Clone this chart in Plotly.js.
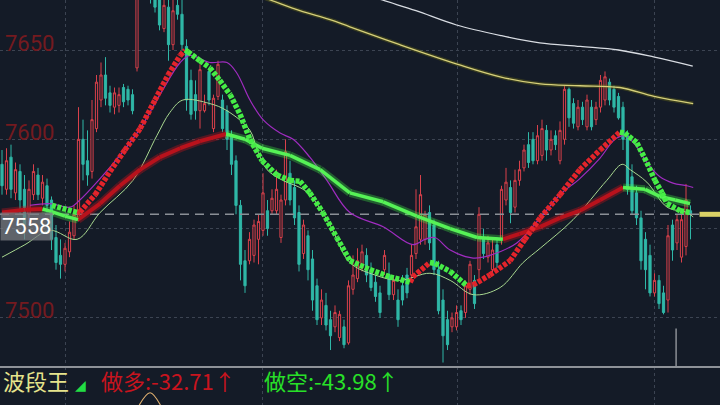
<!DOCTYPE html>
<html><head><meta charset="utf-8">
<script src="https://cdn.plot.ly/plotly-3.0.1.min.js"></script>
<style>html,body{margin:0;padding:0;background:#141b27;}#chart{width:720px;height:405px;}</style>
</head><body><div id="chart"></div>
<script>
// ---------- data ----------
const openP = [7586,7572,7590,7570,7582,7572,7558,7569,7580,7567, 7574,7566,7545,7535,7530,7537,7546,7556,7600,7588,
 7582,7606,7622,7636,7626,7618,7619,7629,7628,7625, 7640,7695,7684,7695,7681,7678,7662,7674,7653,7675,
 7670,7652,7633,7625,7616,7616,7638,7606,7624,7622, 7616,7602,7588,7563,7532,7532,7535,7544,7549,7560,
 7560,7560,7545,7566,7581,7573,7559,7536,7546,7533, 7518,7500,7507,7499,7495,7489,7495,7486,7516,7522,
 7528,7535,7527,7520,7514,7527,7524,7513,7510,7518, 7524,7524,7536,7544,7544,7559,7552,7527,7510,7499,
 7495,7495,7504,7503,7516,7521,7527,7545,7534,7527, 7541,7544,7566,7573,7562,7577,7584,7597,7600,7588,
 7591,7605,7594,7602,7588,7600,7628,7620,7607,7618, 7607,7618,7611,7618,7622,7632,7628,7624,7618,7602,
 7579,7570,7556,7544,7535,7514,7521,7514,7510,7552, 7542,7534,7540,7560];
const highP = [7594,7595,7597,7587,7586,7580,7577,7586,7584,7580, 7578,7568,7552,7544,7542,7554,7563,7618,7611,7605,
 7622,7636,7643,7646,7630,7629,7629,7631,7630,7628, 7689,7700,7703,7700,7686,7684,7681,7678,7678,7684,
 7681,7656,7639,7633,7642,7625,7640,7625,7644,7625, 7619,7605,7591,7566,7538,7548,7555,7558,7581,7566,
 7572,7583,7569,7600,7588,7577,7563,7555,7549,7538, 7522,7516,7514,7504,7507,7504,7499,7521,7535,7539,
 7541,7539,7531,7524,7518,7538,7531,7524,7516,7524, 7528,7541,7572,7580,7560,7563,7555,7532,7516,7504,
 7503,7507,7507,7521,7532,7524,7562,7550,7546,7544, 7545,7574,7584,7577,7583,7588,7597,7604,7604,7608,
 7611,7608,7605,7605,7610,7630,7629,7623,7622,7621, 7625,7622,7621,7636,7638,7634,7630,7626,7621,7605,
 7586,7574,7560,7548,7541,7525,7524,7518,7552,7555, 7558,7558,7575,7563];
const lowP = [7569,7569,7567,7566,7558,7544,7552,7566,7566,7563, 7559,7538,7527,7522,7526,7534,7544,7554,7577,7574,
 7578,7604,7618,7619,7615,7614,7615,7618,7619,7614, 7638,7681,7681,7676,7671,7661,7660,7644,7650,7667,
 7650,7616,7611,7611,7606,7615,7619,7604,7622,7604, 7594,7580,7558,7521,7514,7530,7531,7530,7546,7546,
 7558,7558,7542,7563,7563,7552,7526,7533,7521,7504, 7496,7496,7493,7482,7492,7487,7483,7485,7513,7520,
 7526,7520,7515,7509,7500,7524,7510,7510,7495,7507, 7511,7521,7533,7541,7541,7538,7524,7502,7475,7482,
 7492,7493,7496,7500,7513,7505,7522,7533,7531,7524, 7528,7541,7563,7553,7559,7574,7582,7584,7586,7586,
 7588,7588,7591,7594,7586,7597,7607,7606,7605,7608, 7605,7605,7608,7615,7619,7619,7615,7611,7594,7569,
 7558,7552,7527,7516,7512,7512,7505,7502,7503,7532, 7538,7531,7535,7544];
const closeP = [7574,7588,7572,7583,7566,7552,7572,7582,7569,7576, 7563,7544,7531,7530,7539,7548,7558,7600,7586,7580,
 7611,7632,7636,7623,7619,7626,7625,7621,7622,7616, 7684,7686,7698,7681,7674,7664,7675,7653,7672,7670,
 7653,7622,7614,7616,7639,7620,7622,7623,7642,7606, 7600,7586,7563,7530,7518,7544,7552,7554,7570,7550,
 7567,7572,7566,7593,7566,7556,7530,7552,7527,7510, 7499,7510,7496,7490,7503,7502,7485,7518,7524,7532,
 7537,7524,7517,7512,7503,7535,7513,7521,7499,7510, 7514,7535,7551,7569,7558,7542,7527,7504,7490,7485,
 7500,7503,7499,7518,7530,7508,7558,7536,7542,7538, 7531,7572,7576,7559,7577,7583,7594,7587,7588,7602,
 7606,7594,7600,7597,7605,7628,7612,7609,7618,7611, 7622,7607,7618,7633,7635,7622,7618,7612,7600,7572,
 7560,7556,7532,7527,7514,7521,7508,7503,7546,7538, 7555,7555,7566,7558];

// long moving averages
const whiteIdx = [75,84.5,92,101,111,119.5,128.5,137,145,153.5];
const whiteVal = [7686,7678,7672,7664,7658,7654,7652,7650,7646,7641];
const yellowIdx = [53,59.6,66.2,72.9,77.3,88.4,101.3,110.7,119.6,128.4,137.3,144.9,153.6];
const yellowVal = [7684,7678,7672,7667,7663,7653,7642,7635,7631,7630,7629,7624,7620];
// thick trend MA (red rising / green falling)
const maIdx = [0,5,9,11,14,16.9,21.8,26.2,30.7,35.1,39.6,44,49.8,54,57.8,64,70.7,77.3,84.7,92.2,99.6,105.6,111.3,115,119.6,124,128.4,132.9,138,142.9,146.2,149.6,152.9];
const maVal = [7559,7560.5,7561,7559.5,7557,7555,7564,7574,7583,7590,7595,7599,7603,7600,7595,7591,7583,7570,7565,7557,7550,7545,7544,7547,7551,7556,7560,7566,7573,7572,7568,7566,7564];
// wave step line
const stepIdx = [11.1,16.7,17.3,20.7,24,27.3,30.7,34,36.9,39.6,40.7,41.3,44,46.2,48.4,50.7,52.9,55.1,57.8,61.1,64,66.2,68.4,71.3,74.4,77.3,81.8,86.2,90.7,91.3,95.1,96.2,99.6,103.3,104.7,108.4,112.9,116.2,119.6,124,128.4,132.9,137.3,138.4,141.1,143.3,145.1,146.7,147.8,150.7,152.9];
const stepVal = [7563,7559,7559.2,7569,7582,7594,7606,7622,7636,7647,7650,7649,7644,7640,7633,7625,7614,7600,7588,7580,7577,7576.5,7570,7559,7545,7532,7527,7523,7520,7523,7531,7530.5,7526,7518,7518.5,7524,7532,7544,7556,7569,7583,7594,7604,7603.5,7598,7587,7577,7570,7564,7560,7559];
// purple band line
const purpleIdx = [6.2,10.7,15.1,17.3,21.8,26.2,30.7,35.1,39.6,41.8,46.2,50,52.2,55.1,58,61.8,64.7,68.4,72.2,77.3,84.7,91.3,94,96.2,99.6,104.7,108.4,114.4,119.6,124,128.4,132.9,136.2,138.4,140.7,143.3,146.2,149.1,152.2,153.6];
const purpleVal = [7563,7564,7562,7566,7578,7591,7606,7625,7643,7647,7643,7643,7637,7622,7611,7603.5,7600,7590,7577,7559,7551,7541,7544,7545,7538,7533.5,7535,7542,7556,7569,7578,7589.5,7600,7602,7597,7587,7579,7575.5,7574,7573];
// thin pale-green line
const thinIdx = [0,5.1,10.7,16.7,21.8,29.1,34.4,37.3,40.2,46.2,50,55.1,56.7,58.9,62.4,66.2,68.4,72.9,77.3,82.9,88.4,95.1,99.6,104.7,110.7,115.8,119.6,126.9,134.4,137.8,139.6,143.3,147.8,152.2,153.6];
const thinVal = [7534,7541,7549,7544,7559,7577,7602,7615,7622,7620,7616,7605,7594,7583,7577,7573,7569,7552,7531,7524,7521,7525,7521,7513,7517,7531,7539,7555,7577,7586,7583,7576,7562,7559,7556.5];
// indicator sub-panel
const indName = '波段王';
const longLabel = '做多', longVal = '-32.71';
const shortLabel = '做空', shortVal = '-43.98';
const indIdx = [30.5,32.9,35.2];
const indVal = [0,10,0];
const lastPrice = 7558;
const tickVals = [7500,7550,7600,7650];
const tickLabels = ['7500','7600','7650'];
const vGridIdx = [14,57.8,101.3,144.9];
const markIdx = 149.8, markTop = 7494;

// ---------- build ----------
const idx = openP.map((_,i)=>i);
const X0 = -0.444, X1 = 159.556, Y0 = 7472.5, Y1 = 7678;

function splitDir(xs, ys){
  const up={x:[],y:[]}, dn={x:[],y:[]};
  for(let k=0;k<xs.length-1;k++){
    const t = ys[k+1] > ys[k] ? up : dn;
    t.x.push(xs[k],xs[k+1],null); t.y.push(ys[k],ys[k+1],null);
  }
  return {up,dn};
}
const ma = splitDir(maIdx, maVal);
const st = splitDir(stepIdx, stepVal);

const traces = [];
traces.push({type:'scatter',mode:'lines',x:whiteIdx,y:whiteVal,line:{color:'#d8dce2',width:1.3,shape:'spline'},hoverinfo:'skip'});
traces.push({type:'scatter',mode:'lines',x:yellowIdx,y:yellowVal,line:{color:'rgba(120,120,20,0.35)',width:4,shape:'spline'},hoverinfo:'skip'});
traces.push({type:'scatter',mode:'lines',x:yellowIdx,y:yellowVal,line:{color:'#d6d07a',width:1.3,shape:'spline'},hoverinfo:'skip'});
traces.push({type:'scatter',mode:'lines',x:[X0,155],y:[lastPrice,lastPrice],line:{color:'#8a8f96',width:1.4,dash:'9px,6px'},hoverinfo:'skip'});
traces.push({type:'candlestick',x:idx,open:openP,high:highP,low:lowP,close:closeP,
  increasing:{line:{color:'#d9414b',width:1},fillcolor:'rgba(20,27,39,1)'},
  decreasing:{line:{color:'#2fb7a7',width:1},fillcolor:'#2fb7a7'},
  whiskerwidth:0, hoverinfo:'skip'});
traces.push({type:'scatter',mode:'lines',x:thinIdx,y:thinVal,line:{color:'#a8d890',width:1,shape:'spline'},hoverinfo:'skip'});
traces.push({type:'scatter',mode:'lines',x:purpleIdx,y:purpleVal,line:{color:'#a02cc0',width:1.2,shape:'spline'},hoverinfo:'skip'});
// thick MA with glow
traces.push({type:'scatter',mode:'lines',x:ma.up.x,y:ma.up.y,line:{color:'rgba(200,20,30,0.35)',width:8},hoverinfo:'skip'});
traces.push({type:'scatter',mode:'lines',x:ma.dn.x,y:ma.dn.y,line:{color:'rgba(70,255,70,0.3)',width:8},hoverinfo:'skip'});
traces.push({type:'scatter',mode:'lines',x:ma.up.x,y:ma.up.y,line:{color:'#b8121c',width:4},hoverinfo:'skip'});
traces.push({type:'scatter',mode:'lines',x:ma.dn.x,y:ma.dn.y,line:{color:'#56f256',width:3.5},hoverinfo:'skip'});
// step line
traces.push({type:'scatter',mode:'lines',x:st.up.x,y:st.up.y,line:{color:'#e3242b',width:5.5,dash:'4px,1.5px'},hoverinfo:'skip'});
traces.push({type:'scatter',mode:'lines',x:st.dn.x,y:st.dn.y,line:{color:'#46ec46',width:5.5,dash:'4px,1.5px'},hoverinfo:'skip'});
// price pointer at right
traces.push({type:'scatter',mode:'lines',x:[155,X1],y:[lastPrice,lastPrice],line:{color:'rgba(240,230,110,0.9)',width:5},hoverinfo:'skip'});
// vertical marker
traces.push({type:'scatter',mode:'lines',x:[markIdx,markIdx],y:[markTop,Y0],line:{color:'#8a8e94',width:1.5},hoverinfo:'skip'});
// indicator curve
traces.push({type:'scatter',mode:'lines',xaxis:'x2',yaxis:'y2',x:indIdx,y:indVal,line:{color:'#e0b070',width:1.2,shape:'spline'},hoverinfo:'skip'});

const annotations = [];
tickLabels.forEach(t=>{
  annotations.push({xref:'paper',yref:'y',x:0.004,y:+t,xanchor:'left',yanchor:'middle',yshift:7,showarrow:false,
    text:t,font:{family:'Roboto, sans-serif',size:22,color:'#741a1f'}});
});
annotations.push({xref:'paper',yref:'y',x:0,y:lastPrice,xanchor:'left',yanchor:'top',yshift:2,showarrow:false,
  text:String(lastPrice),bgcolor:'rgba(120,124,130,0.75)',borderpad:1,font:{family:'Roboto, sans-serif',size:22,color:'#ffffff'}});
const cjk = '"Noto Sans CJK SC", sans-serif';
annotations.push({xref:'paper',yref:'paper',x:0.002,y:0.062,xanchor:'left',yanchor:'middle',showarrow:false,
  text:indName,font:{family:cjk,size:22,color:'#e6e48c'}});
annotations.push({xref:'paper',yref:'paper',x:0.102,y:0.05,xanchor:'left',yanchor:'middle',showarrow:false,
  text:'◢',font:{family:'DejaVu Sans',size:14,color:'#22dd44'}});
annotations.push({xref:'paper',yref:'paper',x:0.137,y:0.062,xanchor:'left',yanchor:'middle',showarrow:false,
  text:longLabel+':'+longVal+'↑',font:{family:cjk,size:22,color:'#c8141e'}});
annotations.push({xref:'paper',yref:'paper',x:0.364,y:0.062,xanchor:'left',yanchor:'middle',showarrow:false,
  text:shortLabel+':'+shortVal+'↑',font:{family:cjk,size:22,color:'#28e028'}});

const gridAxis = {range:[X0,X1],showticklabels:false,tickvals:vGridIdx,showgrid:true,gridcolor:'#3c4452',griddash:'dot',gridwidth:1,zeroline:false,showline:false,fixedrange:true};
const layout = {
  width:720,height:405,margin:{l:0,r:0,t:0,b:0},
  paper_bgcolor:'#141b27',plot_bgcolor:'#141b27',showlegend:false,
  xaxis:Object.assign({},gridAxis,{anchor:'y',rangeslider:{visible:false}}),
  xaxis2:Object.assign({},gridAxis,{anchor:'y2',matches:'x'}),
  yaxis:{domain:[0.0938,1],range:[Y0,Y1],tickvals:tickVals,showticklabels:false,showgrid:true,gridcolor:'#3c4452',griddash:'dot',zeroline:false,fixedrange:true},
  yaxis2:{domain:[0,0.0938],range:[0,31],showticklabels:false,showgrid:false,zeroline:false,fixedrange:true},
  shapes:[{type:'line',xref:'paper',yref:'paper',x0:0,x1:1,y0:0.0938,y1:0.0938,line:{color:'#8e9298',width:2}}],
  annotations:annotations
};
Plotly.newPlot('chart',traces,layout,{displayModeBar:false,staticPlot:true});
</script></body></html>
